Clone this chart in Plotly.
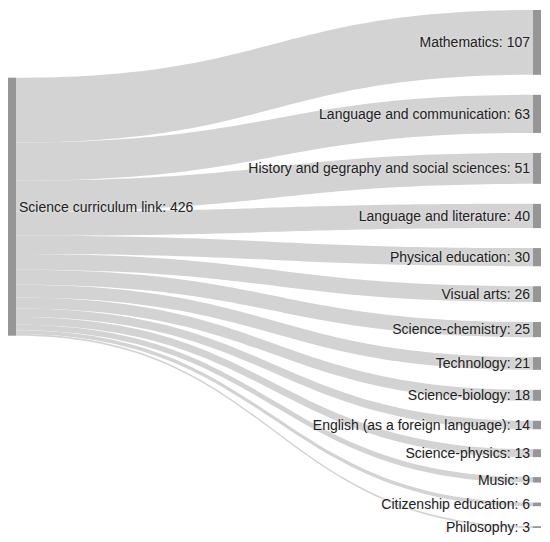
import plotly.graph_objects as go

# === DATA ===
source_name = "Science curriculum link"
subjects = [
    "Mathematics", "Language and communication",
    "History and gegraphy and social sciences", "Language and literature",
    "Physical education", "Visual arts", "Science-chemistry", "Technology",
    "Science-biology", "English (as a foreign language)", "Science-physics",
    "Music", "Citizenship education", "Philosophy",
]
counts = [107, 63, 51, 40, 30, 26, 25, 21, 18, 14, 13, 9, 6, 3]

total = sum(counts)
labels = [f"{source_name}: {total}"] + [f"{s}: {c}" for s, c in zip(subjects, counts)]

fig = go.Figure(go.Sankey(
    arrangement="snap",
    node=dict(
        label=labels,
        pad=20,
        thickness=8,
        color="rgb(150,150,150)",
        line=dict(width=0),
    ),
    link=dict(
        source=[0] * len(counts),
        target=list(range(1, len(counts) + 1)),
        value=counts,
        color="rgba(211,211,211,1)",
    ),
    textfont=dict(family="Liberation Sans, Arial", size=14, color="#222",
                  shadow="0px 0px 3px rgba(235,235,235,1)"),
))

fig.update_layout(
    width=550, height=542,
    margin=dict(l=0, r=17, t=2, b=22),
    paper_bgcolor="white",
)

fig.write_html("out.html")
